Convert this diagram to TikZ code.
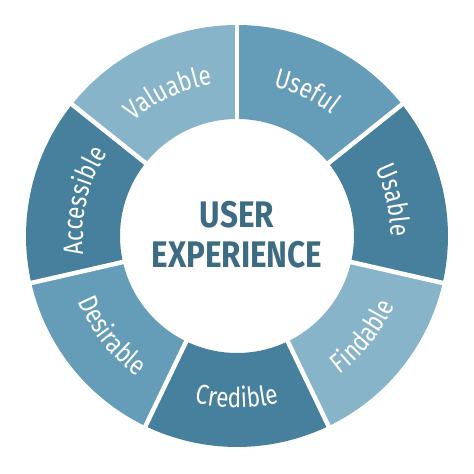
\documentclass[tikz,border=0pt]{standalone}
\usepackage{fontspec}
\usetikzlibrary{decorations.text}
\newfontfamily\labfam[FakeStretch=0.82]{Fira Sans}
\newfontfamily\ctrfam[FakeStretch=0.85]{Fira Sans}
\newcommand\labfont{\fontsize{27.5pt}{32pt}\selectfont\labfam}
\definecolor{cLight}{HTML}{87B4C8}
\definecolor{cMid}{HTML}{659CB7}
\definecolor{cDark}{HTML}{46809C}
\definecolor{cText}{HTML}{3D6C82}
\tikzset{
  gapline/.style={draw=white,line width=4.5pt},
  ctrtext/.style={text=cText,font=\ctrfam\bfseries\fontsize{37pt}{42pt}\selectfont,anchor=base,inner sep=0pt}
}
\begin{document}
\begin{tikzpicture}
\useasboundingbox (-237pt,-238pt) rectangle (237pt,236pt);
\def\Ro{211pt}\def\Ri{117pt}
% segments: index/color/label/direction(1=cw,0=ccw)
\foreach \k/\col/\lab/\cw in {0/cMid/Useful/1,1/cDark/Usable/1,2/cLight/Findable/0,3/cDark/Credible/0,4/cMid/Desirable/0,5/cDark/Accessible/1,6/cLight/Valuable/1}{
  \pgfmathsetmacro\aone{90-51.428571*\k}
  \pgfmathsetmacro\atwo{90-51.428571*(\k+1)}
  \pgfmathsetmacro\amid{90-51.428571*(\k+0.5)}
  \fill[\col] (\aone:\Ro) arc[start angle=\aone,end angle=\atwo,radius=\Ro]
    -- (\atwo:\Ri) arc[start angle=\atwo,end angle=\aone,radius=\Ri] -- cycle;
  \ifnum\cw=1
    \pgfmathsetmacro\bs{\amid+25}\pgfmathsetmacro\be{\amid-25}
    \path[decorate,decoration={text along path,text={|\labfont|\lab},text align=center,text color=white}]
      (\bs:154pt) arc[start angle=\bs,end angle=\be,radius=154pt];
  \else
    \pgfmathsetmacro\bs{\amid-25}\pgfmathsetmacro\be{\amid+25}
    \path[decorate,decoration={text along path,text={|\labfont|\lab},text align=center,text color=white}]
      (\bs:172pt) arc[start angle=\bs,end angle=\be,radius=172pt];
  \fi
}
\foreach \k in {0,...,6}{
  \pgfmathsetmacro\ang{90-51.428571*\k}
  \draw[gapline] (\ang:112pt) -- (\ang:216pt);
}
\node[ctrtext] (user) at (0pt,9pt) {USER};
\node[ctrtext] (exp) at (0pt,-31pt) {EXPERIENCE};
\end{tikzpicture}
\end{document}
